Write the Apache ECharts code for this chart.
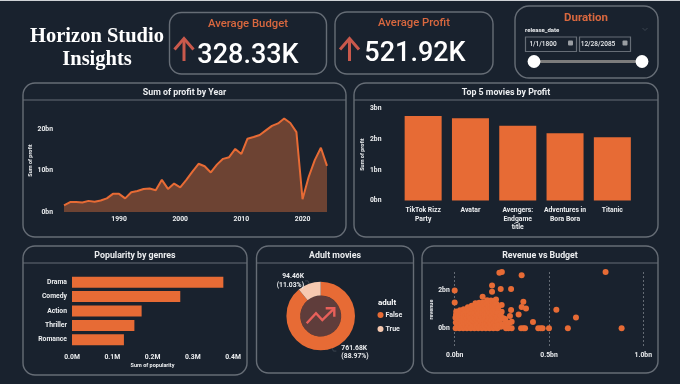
<!DOCTYPE html>
<html>
<head>
<meta charset="utf-8">
<title>Horizon Studio Insights</title>
<script src="https://cdn.jsdelivr.net/npm/echarts@6/dist/echarts.min.js"></script>
<style>
	html, body { margin: 0; padding: 0; background: #19222e; }
	#main { width: 680px; height: 384px; }
</style>
</head>
<body>
<div id="main"></div>
<script>
// profit by year, in bn
var years = ['1981', '1982', '1983', '1984', '1985', '1986', '1987', '1988', '1989', '1990',
	'1991', '1992', '1993', '1994', '1995', '1996', '1997', '1998', '1999', '2000',
	'2001', '2002', '2003', '2004', '2005', '2006', '2007', '2008', '2009', '2010',
	'2011', '2012', '2013', '2014', '2015', '2016', '2017', '2018', '2019', '2020',
	'2021', '2022', '2023', '2024'];
var yearProfit = [1.6, 2.4, 2.4, 2.3, 2.7, 2.5, 2.8, 3.3, 4.4, 4.4,
	3.3, 4.8, 5.1, 5.6, 5.7, 5.3, 7.8, 5.6, 6.9, 6.0,
	7.8, 9.8, 11.7, 11.1, 9.6, 11.5, 12.9, 13.3, 15.3, 14.1,
	17.8, 18.2, 18.7, 19.8, 20.9, 21.5, 22.7, 21.6, 19.4, 3.1,
	8.5, 12.6, 15.6, 11.2];

// top 5 movies, in bn
var movies = ['TikTok Rizz\nParty', 'Avatar', 'Avengers:\nEndgame\ntitle', 'Adventures in\nBora Bora', 'Titanic'];
var movieProfit = [2.76, 2.69, 2.44, 2.2, 2.07];

// popularity, in M
var genres = ['Drama', 'Comedy', 'Action', 'Thriller', 'Romance'];
var genrePopularity = [0.376, 0.269, 0.173, 0.155, 0.129];

// adult split, in K
var adultNames = ['False', 'True'];
var adultValues = [761.68, 94.46];

// budget, revenue in bn
var budgetRevenue = [
	// isolated points
	[0.237, 2.96], [0.25, 3.0], [0.355, 2.83], [0.8, 3.0], [0.198, 2.28], [0.198, 1.95],
	[0.244, 2.09], [0.299, 2.09], [0, 2.02], [0, 1.38], [0.364, 1.42], [0.355, 1.13],
	[0.378, 1.06], [0.299, 0.97], [0.339, 0.73], [0.539, 0.99], [0.643, 0.57], [0.415, 0.34],
	[0.885, 0], [0.6, 0], [0.5, 0], [0.443, 0], [0.456, 0], [0.466, 0], [0.352, 0], [0.364, 0],
	[0.373, 0], [0.272, 0], [0.285, 0], [0.302, 0], [0.226, 0], [0.293, 0.65], [0.302, 0.35],
	[0.272, 0.35], [0.249, 1.24], [0.249, 0.88], [0.258, 0.53], [0.219, 1.54], [0.148, 1.68],
	// dense block near the origin
	[0.005, 0], [0.006, 0.31], [0.004, 0.56], [0.007, 0.72], [0.008, 0.9],
	[0.015, 0.15], [0.016, 0.42], [0.017, 0.65], [0.018, 0.84],
	[0.025, 0], [0.027, 0.28], [0.024, 0.52], [0.026, 0.77], [0.028, 0.96],
	[0.035, 0.14], [0.036, 0.4], [0.037, 0.66], [0.038, 0.88],
	[0.045, 0], [0.047, 0.3], [0.044, 0.55], [0.046, 0.8], [0.048, 1.02],
	[0.055, 0.16], [0.056, 0.43], [0.057, 0.67], [0.058, 0.92],
	[0.065, 0], [0.067, 0.27], [0.064, 0.53], [0.066, 0.78], [0.068, 1.03], [0.07, 1.12],
	[0.075, 0.13], [0.076, 0.41], [0.077, 0.66], [0.078, 0.91],
	[0.085, 0], [0.087, 0.29], [0.084, 0.54], [0.086, 0.79], [0.088, 1.05], [0.09, 1.2],
	[0.095, 0.15], [0.096, 0.42], [0.097, 0.68], [0.098, 0.94], [0.099, 1.16],
	[0.105, 0], [0.107, 0.3], [0.104, 0.56], [0.106, 0.82], [0.108, 1.06], [0.11, 1.33],
	[0.115, 0.16], [0.116, 0.44], [0.117, 0.7], [0.118, 0.93], [0.119, 1.2],
	[0.125, 0], [0.127, 0.28], [0.124, 0.53], [0.126, 0.8], [0.128, 1.04], [0.13, 1.36],
	[0.135, 0.14], [0.136, 0.41], [0.137, 0.67], [0.138, 0.95], [0.139, 1.22],
	[0.145, 0], [0.147, 0.31], [0.144, 0.57], [0.146, 0.83], [0.148, 1.1], [0.15, 1.38],
	[0.155, 0.17], [0.156, 0.44], [0.157, 0.7], [0.158, 0.96], [0.159, 1.2],
	[0.165, 0], [0.167, 0.27], [0.164, 0.52], [0.166, 0.78], [0.168, 1.05], [0.17, 1.31], [0.172, 1.5],
	[0.175, 0.14], [0.176, 0.41], [0.177, 0.66], [0.178, 0.92], [0.179, 1.18], [0.18, 1.42],
	[0.185, 0], [0.187, 0.3], [0.184, 0.55], [0.186, 0.81], [0.188, 1.07], [0.19, 1.28], [0.192, 1.48],
	[0.195, 0.16], [0.196, 0.43], [0.197, 0.68], [0.198, 0.94], [0.199, 1.2], [0.2, 1.4],
	[0.205, 0], [0.207, 0.29], [0.204, 0.54], [0.206, 0.8], [0.208, 1.0], [0.21, 1.22], [0.212, 1.47],
	[0.215, 0.15], [0.216, 0.42], [0.217, 0.67], [0.218, 0.9], [0.222, 1.3],
	[0.225, 0.02], [0.227, 0.33], [0.224, 0.6], [0.226, 0.84], [0.23, 1.1], [0.24, 0.3], [0.245, 0.08],
	[0.235, 0.16], [0.238, 0.48], [0.244, 0.68], [0.252, 0.2], [0.262, 0.12], [0.268, 0.5], [0.28, 0.18], [0.29, 0.28]
];

var orange = '#e76b35';
var white = '#eceef0';
var border = '#666d76';
var font = 'Roboto, sans-serif';

var shapes = [];

function addText(x, y, str, size, color, weight, align, family) {
	shapes.push({
		type: 'text', x: x, y: y, silent: true,
		style: {
			text: str, fontSize: size, fill: color, fontWeight: weight || 'bold',
			fontFamily: family || font, align: align || 'center', verticalAlign: 'middle'
		}
	});
}

function addPanel(x, y, w, h, r, title, lineY, titleY) {
	shapes.push({
		type: 'rect', silent: true,
		shape: { x: x, y: y, width: w, height: h, r: r },
		style: { fill: 'none', stroke: border, lineWidth: 1.4 }
	});
	if (lineY) {
		shapes.push({
			type: 'line', silent: true,
			shape: { x1: x, y1: lineY, x2: x + w, y2: lineY },
			style: { stroke: border, lineWidth: 1.2 }
		});
	}
	if (title) addText(x + w / 2, titleY, title, 8.8, white);
}

function addPoly(points, color, width) {
	shapes.push({
		type: 'polyline', silent: true,
		shape: { points: points },
		style: { fill: 'none', stroke: color, lineWidth: width, lineJoin: 'miter' }
	});
}

function addArrow(cx) {
	addPoly([[cx, 61], [cx, 39]], '#c9594c', 3);
	addPoly([[cx - 9.5, 49.5], [cx, 38.5], [cx + 9.5, 49.5]], '#c9594c', 3);
}

// top strip
shapes.push({ type: 'rect', silent: true, shape: { x: 0, y: 0, width: 680, height: 1 }, style: { fill: '#cfd2d6' } });

// heading
addText(97, 37, 'Horizon Studio', 20.5, '#ffffff', 'bold', 'center', '"Liberation Serif", serif');
addText(97, 60, 'Insights', 20.5, '#ffffff', 'bold', 'center', '"Liberation Serif", serif');

// kpi cards
addPanel(169.5, 12.5, 157, 61.5, 12);
addText(248, 24, 'Average Budget', 11.3, '#d9683f', '500');
addText(248, 56, '328.33K', 27, '#ffffff', '500');
addArrow(184);

addPanel(335, 12, 158, 62, 12);
addText(414, 23, 'Average Profit', 11.3, '#d9683f', '500');
addText(415, 54, '521.92K', 27, '#ffffff', '500');
addArrow(349.5);

// date slicer
addPanel(515, 6, 143, 72, 14);
addText(586, 18, 'Duration', 11.5, '#d9683f', 'bold');
addText(525, 30, 'release_date', 6, white, 'bold', 'left');
shapes.push({ type: 'rect', silent: true, shape: { x: 525.5, y: 37, width: 51, height: 14.5 }, style: { fill: 'none', stroke: border, lineWidth: 1.2 } });
shapes.push({ type: 'rect', silent: true, shape: { x: 579.5, y: 37, width: 51, height: 14.5 }, style: { fill: 'none', stroke: border, lineWidth: 1.2 } });
addText(543, 44.5, '1/1/1800', 6.5, white, '500');
addText(598, 44.5, '12/28/2085', 6.5, white, '500');
shapes.push({ type: 'rect', silent: true, shape: { x: 568, y: 40.5, width: 5, height: 5, r: 1 }, style: { fill: '#9a9ea3' } });
shapes.push({ type: 'rect', silent: true, shape: { x: 622.5, y: 40.5, width: 5, height: 5, r: 1 }, style: { fill: '#9a9ea3' } });
addPoly([[642.5, 28], [645, 30.5], [647.5, 28]], '#3b444f', 1);
shapes.push({ type: 'line', silent: true, shape: { x1: 534, y1: 61.5, x2: 642, y2: 61.5 }, style: { stroke: '#7c7c7c', lineWidth: 3 } });
shapes.push({ type: 'circle', silent: true, shape: { cx: 534, cy: 61.5, r: 6.4 }, style: { fill: '#ffffff' } });
shapes.push({ type: 'circle', silent: true, shape: { cx: 642, cy: 61.5, r: 6.4 }, style: { fill: '#ffffff' } });

// chart panels
addPanel(23, 83, 323, 154, 12, 'Sum of profit by Year', 100, 93);
addPanel(354, 83, 304, 154, 12, 'Top 5 movies by Profit', 100, 93);
addPanel(23, 246, 224, 129, 12, 'Popularity by genres', 263, 256);
addPanel(256.5, 246, 157, 127, 12, 'Adult movies', 263, 256);
addPanel(422, 246, 236, 127, 12, 'Revenue vs Budget', 263, 256);

// donut centre and trend icon
shapes.push({ type: 'circle', silent: true, shape: { cx: 320.7, cy: 316, r: 20.5 }, style: { fill: '#5f3d3b' } });
addPoly([[306.7, 323.3], [316, 313.3], [322.3, 320], [334.3, 308.3]], '#e8605a', 2.4);
addPoly([[325.7, 308.3], [334.3, 308.3], [334.3, 316.7]], '#e8605a', 2.4);

addText(378, 303, 'adult', 8, '#ffffff', 'bold', 'left');

var axisText = { color: white, fontSize: 6.8, fontWeight: 'bold', fontFamily: font };
var nameText = { color: white, fontSize: 5.5, fontWeight: 'bold', fontFamily: font };

var chart = echarts.init(document.getElementById('main'), null, { renderer: 'canvas' });

var option = {
	backgroundColor: '#19222e',
	animation: false,
	textStyle: { fontFamily: font },
	graphic: { elements: shapes },
	legend: {
		data: adultNames,
		orient: 'vertical',
		left: 377.5, top: 311.5,
		icon: 'circle',
		itemWidth: 6, itemHeight: 6, itemGap: 7, padding: 0,
		selectedMode: false,
		textStyle: { color: white, fontSize: 7, fontWeight: 'bold', padding: [0, 0, 0, -3] }
	},
	grid: [
		{ left: 64, top: 109, width: 263, height: 103 },
		{ left: 399.5, top: 108.7, width: 236.5, height: 91.8 },
		{ left: 72, top: 275, width: 161, height: 72 },
		{ left: 454.7, top: 272, width: 188.6, height: 75 }
	],
	xAxis: [
		{
			type: 'category', gridIndex: 0, data: years, boundaryGap: false,
			axisLine: { show: false }, axisTick: { show: false }, splitLine: { show: false },
			axisLabel: Object.assign({}, axisText, {
				margin: 4,
				interval: function (i, v) { return Number(v) % 10 === 0; }
			})
		},
		{
			type: 'category', gridIndex: 1, data: movies,
			axisLine: { show: false }, axisTick: { show: false },
			axisLabel: Object.assign({}, axisText, {
				margin: 6, interval: 0, lineHeight: 8.5
			})
		},
		{
			type: 'value', gridIndex: 2, min: 0, max: 0.4, interval: 0.1,
			name: 'Sum of popularity', nameLocation: 'middle', nameGap: 16, nameTextStyle: nameText,
			axisLine: { show: false }, axisTick: { show: false }, splitLine: { show: false },
			axisLabel: Object.assign({}, axisText, {
				margin: 7,
				formatter: function (v) { return v.toFixed(1) + 'M'; }
			})
		},
		{
			type: 'value', gridIndex: 3, min: 0, max: 1, interval: 0.5,
			axisLine: { show: false }, axisTick: { show: false },
			splitLine: { show: true, lineStyle: { color: '#646b74', type: [2, 2], width: 1 } },
			axisLabel: Object.assign({}, axisText, {
				margin: 5,
				formatter: function (v) { return v.toFixed(1) + 'bn'; }
			})
		}
	],
	yAxis: [
		{
			type: 'value', gridIndex: 0, min: 0, max: 25, interval: 10,
			name: 'Sum of profit', nameLocation: 'middle', nameGap: 24, nameTextStyle: nameText,
			axisLine: { show: false }, axisTick: { show: false }, splitLine: { show: false },
			axisLabel: Object.assign({}, axisText, {
				margin: 11, showMaxLabel: false,
				formatter: '{value}bn'
			})
		},
		{
			type: 'value', gridIndex: 1, min: 0, max: 3, interval: 1,
			name: 'Sum of profit', nameLocation: 'middle', nameGap: 26, nameTextStyle: nameText,
			axisLine: { show: false }, axisTick: { show: false }, splitLine: { show: false },
			axisLabel: Object.assign({}, axisText, { margin: 18, formatter: '{value}bn' })
		},
		{
			type: 'category', gridIndex: 2, data: genres, inverse: true,
			axisLine: { show: false }, axisTick: { show: false },
			axisLabel: Object.assign({}, axisText, { margin: 5 })
		},
		{
			type: 'value', gridIndex: 3, min: -1, max: 3, interval: 1,
			name: 'revenue', nameLocation: 'middle', nameGap: 15, nameTextStyle: nameText,
			axisLine: { show: false }, axisTick: { show: false }, splitLine: { show: false },
			axisLabel: Object.assign({}, axisText, {
				margin: 5,
				formatter: function (v) { return (v === 0 || v === 2) ? v + 'bn' : ''; }
			})
		}
	],
	series: [
		{
			type: 'line', xAxisIndex: 0, yAxisIndex: 0, data: yearProfit,
			symbol: 'none',
			lineStyle: { color: orange, width: 2 },
			areaStyle: { color: '#6d4333', opacity: 1 }
		},
		{
			type: 'bar', xAxisIndex: 1, yAxisIndex: 1, data: movieProfit,
			barWidth: 37,
			itemStyle: { color: orange }
		},
		{
			type: 'bar', xAxisIndex: 2, yAxisIndex: 2, data: genrePopularity,
			barWidth: 11,
			itemStyle: { color: orange }
		},
		{
			type: 'scatter', xAxisIndex: 3, yAxisIndex: 3, data: budgetRevenue,
			symbolSize: 6,
			large: false,
			itemStyle: { color: orange, opacity: 1 }
		},
		{
			type: 'pie', center: [320.7, 316], radius: [20.5, 34.3],
			startAngle: 90, percentPrecision: 2,
			data: [
				{ name: adultNames[0], value: adultValues[0], itemStyle: { color: orange } },
				{ name: adultNames[1], value: adultValues[1], itemStyle: { color: '#f6c9b0' } }
			],
			label: {
				color: white, fontSize: 6.8, fontWeight: 'bold', lineHeight: 8.5,
				formatter: function (p) { return p.value + 'K\n(' + p.percent.toFixed(2) + '%)'; }
			},
			labelLine: { length: 3, length2: 3, lineStyle: { color: '#3b444f', width: 1 } },
			labelLayout: function (p) {
				return p.dataIndex === 1 ? { dx: 4 } : { dy: 1 };
			}
		}
	]
};

chart.setOption(option);
window.addEventListener('resize', function () {
	chart.resize();
});
</script>
</body>
</html>
